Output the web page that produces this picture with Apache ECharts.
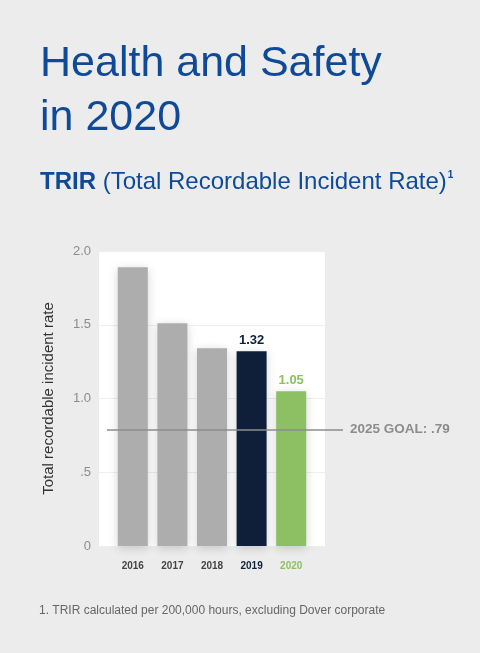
<!DOCTYPE html>
<html>
<head>
<meta charset="utf-8">
<script src="https://cdn.jsdelivr.net/npm/echarts@6/dist/echarts.min.js"></script>
<style>
  html, body { margin: 0; padding: 0; background: #ececec; }
  #chart { width: 480px; height: 653px; }
</style>
</head>
<body>
<div id="chart"></div>
<script>
// ---- data ----
const years = ['2016', '2017', '2018', '2019', '2020'];
const trir = [1.89, 1.51, 1.34, 1.32, 1.05];
const goalValue = 0.79;
const goalLabel = '2025 GOAL: .79';
const labeledYears = ['2019', '2020'];
const yTickLabels = ['0', '.5', '1.0', '1.5', '2.0'];
const titleText = 'Health and Safety\nin 2020';
const subtitleBold = 'TRIR';
const subtitleRest = ' (Total Recordable Incident Rate)';
const footnote = '1. TRIR calculated per 200,000 hours, excluding Dover corporate';
const yAxisName = 'Total recordable incident rate';

// ---- styles ----
const GRAY = '#adadad', NAVY = '#0f1f3a', GREEN = '#8cc063';
const barColors = [GRAY, GRAY, GRAY, NAVY, GREEN];
const yearColors = ['#444444', '#444444', '#444444', NAVY, GREEN];
const BLUE = '#0e4a98';
const FONT = '"Liberation Sans", Arial, Helvetica, sans-serif';

const chart = echarts.init(document.getElementById('chart'), null, { renderer: 'canvas' });

const barData = trir.map((v, i) => ({
  value: v,
  itemStyle: { color: barColors[i] },
  label: {
    show: labeledYears.includes(years[i]),
    color: barColors[i]
  }
}));

const option = {
  backgroundColor: '#ececec',
  animation: false,
  textStyle: { fontFamily: FONT },
  title: [
    {
      text: titleText,
      left: 40,
      top: 37,
      padding: 0,
      textStyle: { fontFamily: FONT, fontSize: 43, fontWeight: 'normal', color: BLUE, lineHeight: 54 }
    },
    {
      text: '{b|' + subtitleBold + '}{r|' + subtitleRest + '}{s|1}',
      left: 40,
      top: 170,
      padding: 0,
      textStyle: {
        rich: {
          b: { fontFamily: FONT, fontSize: 24, fontWeight: 'bold', color: BLUE, lineHeight: 24 },
          r: { fontFamily: FONT, fontSize: 24, fontWeight: 'normal', color: BLUE, lineHeight: 24 },
          s: { fontFamily: FONT, fontSize: 10, color: BLUE, verticalAlign: 'top', padding: [0, 0, 14, 1] }
        }
      }
    },
    {
      text: footnote,
      left: 39,
      top: 605,
      padding: 0,
      textStyle: { fontFamily: FONT, fontSize: 12, fontWeight: 'normal', color: '#666666' }
    }
  ],
  grid: [
    { left: 113, width: 198, top: 251, bottom: 107, containLabel: false },
    { left: 99, width: 226, top: 251, bottom: 107, show: true, backgroundColor: '#ffffff', borderWidth: 0, z: 0 }
  ],
  xAxis: [
    {
      type: 'category',
      gridIndex: 0,
      data: years.map((y, i) => ({ value: y, textStyle: { color: yearColors[i] } })),
      axisLine: { show: false },
      axisTick: { show: false },
      axisLabel: { margin: 15, fontFamily: FONT, fontSize: 10, fontWeight: 'bold' }
    },
    { type: 'value', gridIndex: 1, show: false, min: 0, max: 1 }
  ],
  yAxis: [
    { type: 'value', gridIndex: 0, min: 0, max: 2, interval: 0.5, show: false },
    {
      type: 'value',
      gridIndex: 1,
      min: 0,
      max: 2,
      interval: 0.5,
      name: yAxisName,
      nameLocation: 'middle',
      nameGap: 43,
      nameTextStyle: { fontFamily: FONT, fontSize: 15, color: '#333333' },
      axisLine: { show: false },
      axisTick: { show: false },
      axisLabel: {
        margin: 8,
        fontFamily: FONT,
        fontSize: 13,
        color: '#8c8c8c',
        formatter: (v) => yTickLabels[Math.round(v / 0.5)]
      },
      splitLine: { show: true, lineStyle: { color: '#efefef', width: 1 } }
    }
  ],
  series: [
    {
      type: 'bar',
      xAxisIndex: 0,
      yAxisIndex: 0,
      barWidth: 30,
      clip: false,
      data: barData,
      itemStyle: {
        shadowBlur: 10,
        shadowColor: 'rgba(0,0,0,0.18)',
        shadowOffsetY: 2
      },
      label: {
        position: 'top',
        distance: 4,
        fontFamily: FONT,
        fontSize: 13,
        fontWeight: 'bold',
        formatter: (p) => p.value.toFixed(2)
      },
      markLine: {
        silent: true,
        symbol: 'none',
        lineStyle: { color: '#8c8c8c', width: 1.5, type: 'solid' },
        label: {
          show: true,
          position: 'end',
          distance: 7,
          formatter: goalLabel,
          fontFamily: FONT,
          fontSize: 13.5,
          fontWeight: 'bold',
          color: '#8c8c8c'
        },
        data: [
          [
            { yAxis: goalValue, x: 107 },
            { yAxis: goalValue, x: 343 }
          ]
        ]
      }
    }
  ]
};

chart.setOption(option);
</script>
</body>
</html>
